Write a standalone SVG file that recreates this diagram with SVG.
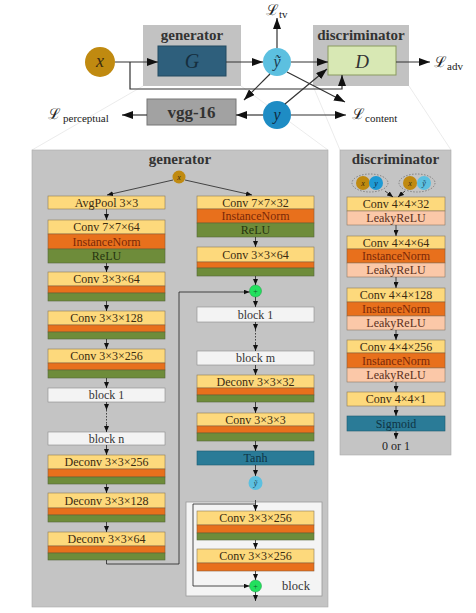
<svg xmlns="http://www.w3.org/2000/svg" width="476" height="613" viewBox="0 0 476 613">
<style>
text{font-family:"Liberation Serif","DejaVu Serif",serif;}
.lb{font-size:12px;text-anchor:middle;}
.hd{font-size:15px;font-weight:bold;text-anchor:middle;fill:#333;}
.Y{fill:#fdd97c;stroke:#8c7a55;stroke-width:0.6;}
.O{fill:#e8701c;stroke:#8c5a35;stroke-width:0.6;}
.G{fill:#6e8c3a;stroke:#55663a;stroke-width:0.6;}
.P{fill:#fbc8a8;stroke:#8c7a65;stroke-width:0.6;}
.W{fill:#f3f3f3;stroke:#8a8a8a;stroke-width:0.6;}
.T{fill:#2a7b97;stroke:#1d5a70;stroke-width:0.6;}
.ty{fill:#3a2a10;}
.to{fill:#7a2808;}
.tg{fill:#26340f;}
.tp{fill:#5a3020;}
.tt{fill:#0e3444;}
.tw{fill:#333;}
.ln{stroke:#333;stroke-width:1.2;fill:none;}
.sl{stroke:#222;stroke-width:0.8;fill:none;}
.zl{stroke:#e6e6e6;stroke-width:0.8;fill:none;}
.pl{fill:#22e05e;stroke:#1a9a40;stroke-width:0.5;}
.Lc{font-family:"DejaVu Serif",serif;font-size:15px;}
.sub{font-size:11px;}
</style>
<defs>
<marker id="ah" markerUnits="userSpaceOnUse" markerWidth="11" markerHeight="8" refX="11" refY="4" orient="auto"><path d="M0,0 L11,4 L0,8 z" fill="#111"/></marker>
<marker id="as" markerUnits="userSpaceOnUse" markerWidth="6" markerHeight="5" refX="6" refY="2.5" orient="auto"><path d="M0,0 L6,2.5 L0,5 z" fill="#111"/></marker>
</defs>
<rect width="476" height="613" fill="#fff"/>

<!-- zoom lines -->
<g id="zoomlines">
<line class="zl" x1="143" y1="86" x2="32" y2="150"/>
<line class="zl" x1="241" y1="86" x2="328" y2="150"/>
<line class="zl" x1="313" y1="86" x2="340" y2="150"/>
<line class="zl" x1="409" y1="86" x2="451" y2="150"/>
</g>

<!-- top overview -->
<g id="top-generator">
<rect x="143" y="25" width="98" height="61" fill="#c2c2c2"/>
<text class="hd" x="192" y="40">generator</text>
<rect x="158" y="46" width="68" height="30" fill="#2e5f7c" stroke="#234a60"/>
<text x="192" y="68" font-size="20" font-style="italic" text-anchor="middle" fill="#152e3e">G</text>
</g>
<g id="top-discriminator">
<rect x="313" y="25" width="96" height="61" fill="#c2c2c2"/>
<text class="hd" x="361" y="40">discriminator</text>
<rect x="328" y="46" width="68" height="29" fill="#d8e8b4" stroke="#8a9a60"/>
<text x="362" y="68" font-size="19" font-style="italic" text-anchor="middle" fill="#333">D</text>
</g>
<g id="top-x">
<circle cx="100" cy="62" r="15" fill="#c08a10"/>
<text x="100" y="67" font-size="18" font-style="italic" text-anchor="middle" fill="#3a2a10">x</text>
</g>
<g id="top-yhat">
<circle cx="277" cy="62" r="14" fill="#5cc0e0"/>
<text x="277" y="67" font-size="16" font-style="italic" text-anchor="middle" fill="#1a3a50">ỹ</text>
</g>
<g id="top-y">
<circle cx="277" cy="115" r="14" fill="#1e8cc4"/>
<text x="277" y="120" font-size="16" font-style="italic" text-anchor="middle" fill="#0e2a40">y</text>
</g>
<g id="top-vgg">
<rect x="147" y="99" width="89" height="26" fill="#a2a2a2" stroke="#777"/>
<text x="191.5" y="118" font-size="17" font-weight="bold" text-anchor="middle" fill="#333">vgg-16</text>
</g>
<g id="losses" fill="#222">
<text x="266" y="15"><tspan class="Lc">ℒ</tspan><tspan class="sub" dy="3">tv</tspan></text>
<text x="434" y="67"><tspan class="Lc">ℒ</tspan><tspan class="sub" dy="3">adv</tspan></text>
<text x="352" y="119"><tspan class="Lc">ℒ</tspan><tspan class="sub" dy="3">content</tspan></text>
<text x="48" y="119"><tspan class="Lc">ℒ</tspan><tspan class="sub" dy="3" dx="2">perceptual</tspan></text>
</g>
<g id="top-connectors">
<line class="ln" x1="115" y1="62" x2="158" y2="62" marker-end="url(#ah)"/>
<polyline class="ln" points="130,62 130,89 342,89 342,75" marker-end="url(#ah)"/>
<line class="ln" x1="226" y1="62" x2="263" y2="62" marker-end="url(#ah)"/>
<line class="ln" x1="291" y1="62" x2="328" y2="62" marker-end="url(#ah)"/>
<line class="ln" x1="277" y1="48" x2="277" y2="18" marker-end="url(#ah)"/>
<line class="ln" x1="396" y1="62" x2="430" y2="62" marker-end="url(#ah)"/>
<line class="ln" x1="270" y1="74" x2="244" y2="100" marker-end="url(#ah)"/>
<line class="ln" x1="287" y1="72" x2="345" y2="102" marker-end="url(#ah)"/>
<line class="ln" x1="285" y1="104" x2="327" y2="69" marker-end="url(#ah)"/>
<line class="ln" x1="263" y1="115" x2="236" y2="115" marker-end="url(#ah)"/>
<line class="ln" x1="291" y1="115" x2="346" y2="115" marker-end="url(#ah)"/>
<line class="ln" x1="147" y1="115" x2="122" y2="115" marker-end="url(#ah)"/>
</g>

<!-- generator panel -->
<g id="generator-panel">
<rect x="32" y="150" width="296" height="457" fill="#c4c4c4" stroke="#aaa" stroke-width="0.6"/>
<text class="hd" x="180" y="164">generator</text>
</g>
<g id="g-x">
<circle cx="179" cy="177" r="6.5" fill="#c08a10"/>
<text x="179" y="180" font-size="8" font-style="italic" text-anchor="middle" fill="#3a2a10">x</text>
</g>

<g id="g-avgpool">
<rect class="Y" x="48" y="196" width="117" height="13"/>
<text class="lb ty" x="106.5" y="206.5">AvgPool 3×3</text>
</g>
<g id="g-conv7x7x64">
<rect class="Y" x="48" y="220" width="117" height="14"/>
<rect class="O" x="48" y="234" width="117" height="15"/>
<rect class="G" x="48" y="249" width="117" height="14"/>
<text class="lb ty" x="106.5" y="231">Conv 7×7×64</text>
<text class="lb to" x="106.5" y="245.5">InstanceNorm</text>
<text class="lb tg" x="106.5" y="260">ReLU</text>
</g>
<g id="g-conv3x3x64">
<rect class="Y" x="48" y="272" width="117" height="14"/>
<rect class="O" x="48" y="286" width="117" height="7"/>
<rect class="G" x="48" y="293" width="117" height="8"/>
<text class="lb ty" x="106.5" y="283">Conv 3×3×64</text>
</g>
<g id="g-conv3x3x128">
<rect class="Y" x="48" y="311" width="117" height="14"/>
<rect class="O" x="48" y="325" width="117" height="7"/>
<rect class="G" x="48" y="332" width="117" height="7"/>
<text class="lb ty" x="106.5" y="322">Conv 3×3×128</text>
</g>
<g id="g-conv3x3x256">
<rect class="Y" x="48" y="349" width="117" height="14"/>
<rect class="O" x="48" y="363" width="117" height="7"/>
<rect class="G" x="48" y="370" width="117" height="8"/>
<text class="lb ty" x="106.5" y="360">Conv 3×3×256</text>
</g>
<g id="g-block1-left">
<rect class="W" x="48" y="388" width="117" height="14"/>
<text class="lb tw" x="106.5" y="399">block 1</text>
</g>
<g id="g-blockn">
<rect class="W" x="48" y="432" width="117" height="13"/>
<text class="lb tw" x="106.5" y="442.5">block n</text>
</g>
<g id="g-deconv256">
<rect class="Y" x="48" y="455" width="117" height="14"/>
<rect class="O" x="48" y="469" width="117" height="8"/>
<rect class="G" x="48" y="477" width="117" height="7"/>
<text class="lb ty" x="106.5" y="466">Deconv 3×3×256</text>
</g>
<g id="g-deconv128">
<rect class="Y" x="48" y="493" width="117" height="15"/>
<rect class="O" x="48" y="508" width="117" height="7"/>
<rect class="G" x="48" y="515" width="117" height="7"/>
<text class="lb ty" x="106.5" y="504.5">Deconv 3×3×128</text>
</g>
<g id="g-deconv64">
<rect class="Y" x="48" y="532" width="117" height="14"/>
<rect class="O" x="48" y="546" width="117" height="7"/>
<rect class="G" x="48" y="553" width="117" height="7"/>
<text class="lb ty" x="106.5" y="543">Deconv 3×3×64</text>
</g>

<g id="g-conv7x7x32">
<rect class="Y" x="197" y="196" width="117" height="13"/>
<rect class="O" x="197" y="209" width="117" height="14"/>
<rect class="G" x="197" y="223" width="117" height="14"/>
<text class="lb ty" x="255.5" y="206.5">Conv 7×7×32</text>
<text class="lb to" x="255.5" y="220">InstanceNorm</text>
<text class="lb tg" x="255.5" y="234">ReLU</text>
</g>
<g id="g-conv3x3x64-right">
<rect class="Y" x="197" y="247" width="117" height="15"/>
<rect class="O" x="197" y="262" width="117" height="6"/>
<rect class="G" x="197" y="268" width="117" height="8"/>
<text class="lb ty" x="255.5" y="258.5">Conv 3×3×64</text>
</g>
<g id="g-plus1">
<circle class="pl" cx="255.5" cy="291" r="6"/>
<text x="255.5" y="294" font-size="8" text-anchor="middle" fill="#155a2a">+</text>
</g>
<g id="g-block1-right">
<rect class="W" x="197" y="307" width="117" height="15"/>
<text class="lb tw" x="255.5" y="318.5">block 1</text>
</g>
<g id="g-blockm">
<rect class="W" x="197" y="351" width="117" height="14"/>
<text class="lb tw" x="255.5" y="362">block m</text>
</g>
<g id="g-deconv32">
<rect class="Y" x="197" y="375" width="117" height="13"/>
<rect class="O" x="197" y="388" width="117" height="7"/>
<rect class="G" x="197" y="395" width="117" height="7"/>
<text class="lb ty" x="255.5" y="385.5">Deconv 3×3×32</text>
</g>
<g id="g-conv3x3x3">
<rect class="Y" x="197" y="413" width="117" height="13"/>
<rect class="O" x="197" y="426" width="117" height="7"/>
<rect class="G" x="197" y="433" width="117" height="8"/>
<text class="lb ty" x="255.5" y="423.5">Conv 3×3×3</text>
</g>
<g id="g-tanh">
<rect class="T" x="197" y="451" width="117" height="14"/>
<text class="lb tt" x="255.5" y="462">Tanh</text>
</g>
<g id="g-yhat">
<circle cx="255.5" cy="483" r="7" fill="#5cc0e0"/>
<text x="255.5" y="486" font-size="8" font-style="italic" text-anchor="middle" fill="#1a3a50">ỹ</text>
</g>
<g id="g-block">
<rect x="186" y="502" width="136" height="94" fill="#f4f4f4" stroke="#999" stroke-width="0.8"/>
<rect class="Y" x="197" y="511" width="117" height="14"/>
<rect class="O" x="197" y="525" width="117" height="8"/>
<rect class="G" x="197" y="533" width="117" height="7"/>
<text class="lb ty" x="255.5" y="522">Conv 3×3×256</text>
<rect class="Y" x="197" y="549" width="117" height="14"/>
<rect class="O" x="197" y="563" width="117" height="8"/>
<text class="lb ty" x="255.5" y="560">Conv 3×3×256</text>
<circle class="pl" cx="255.5" cy="586" r="6"/>
<text x="255.5" y="589" font-size="8" text-anchor="middle" fill="#155a2a">+</text>
<text x="296" y="590" font-size="12.5" text-anchor="middle" fill="#333">block</text>
</g>

<g id="generator-connectors">
<line class="sl" x1="173" y1="180" x2="107" y2="195" marker-end="url(#as)"/>
<line class="sl" x1="185" y1="180" x2="252" y2="195" marker-end="url(#as)"/>
<line class="sl" x1="106.5" y1="209" x2="106.5" y2="220" marker-end="url(#as)"/>
<line class="sl" x1="106.5" y1="263" x2="106.5" y2="272" marker-end="url(#as)"/>
<line class="sl" x1="106.5" y1="301" x2="106.5" y2="311" marker-end="url(#as)"/>
<line class="sl" x1="106.5" y1="339" x2="106.5" y2="349" marker-end="url(#as)"/>
<line class="sl" x1="106.5" y1="378" x2="106.5" y2="388" marker-end="url(#as)"/>
<line class="sl" x1="106.5" y1="402" x2="106.5" y2="410" marker-end="url(#as)"/>
<line class="sl" x1="106.5" y1="410" x2="106.5" y2="424" stroke-dasharray="1.5,1.5"/>
<line class="sl" x1="106.5" y1="424" x2="106.5" y2="432" marker-end="url(#as)"/>
<line class="sl" x1="106.5" y1="445" x2="106.5" y2="455" marker-end="url(#as)"/>
<line class="sl" x1="106.5" y1="484" x2="106.5" y2="493" marker-end="url(#as)"/>
<line class="sl" x1="106.5" y1="522" x2="106.5" y2="532" marker-end="url(#as)"/>
<polyline class="sl" points="106.5,560 106.5,564 179,564 179,292 249.5,292" marker-end="url(#as)"/>
<line class="sl" x1="255.5" y1="237" x2="255.5" y2="247" marker-end="url(#as)"/>
<line class="sl" x1="255.5" y1="276" x2="255.5" y2="285" marker-end="url(#as)"/>
<line class="sl" x1="255.5" y1="297" x2="255.5" y2="307" marker-end="url(#as)"/>
<line class="sl" x1="255.5" y1="322" x2="255.5" y2="330" marker-end="url(#as)"/>
<line class="sl" x1="255.5" y1="330" x2="255.5" y2="343" stroke-dasharray="1.5,1.5"/>
<line class="sl" x1="255.5" y1="343" x2="255.5" y2="351" marker-end="url(#as)"/>
<line class="sl" x1="255.5" y1="365" x2="255.5" y2="375" marker-end="url(#as)"/>
<line class="sl" x1="255.5" y1="402" x2="255.5" y2="413" marker-end="url(#as)"/>
<line class="sl" x1="255.5" y1="441" x2="255.5" y2="451" marker-end="url(#as)"/>
<line class="sl" x1="255.5" y1="465" x2="255.5" y2="476" marker-end="url(#as)"/>
<line class="sl" x1="255.5" y1="500" x2="255.5" y2="511" marker-end="url(#as)"/>
<polyline class="sl" points="255.5,504 193,504 193,586 249.5,586" marker-end="url(#as)"/>
<line class="sl" x1="255.5" y1="540" x2="255.5" y2="549" marker-end="url(#as)"/>
<line class="sl" x1="255.5" y1="571" x2="255.5" y2="580" marker-end="url(#as)"/>
<line class="sl" x1="255.5" y1="592" x2="255.5" y2="601" marker-end="url(#as)"/>
</g>

<!-- discriminator panel -->
<g id="discriminator-panel">
<rect x="340" y="150" width="111" height="305" fill="#c4c4c4" stroke="#aaa" stroke-width="0.6"/>
<text class="hd" x="395.5" y="164">discriminator</text>
</g>
<g id="d-pair1">
<ellipse cx="370" cy="183" rx="18" ry="9" fill="none" stroke="#555" stroke-width="0.6" stroke-dasharray="1.5,1.5"/>
<circle cx="363" cy="183" r="7" fill="#c08a10"/>
<circle cx="376" cy="183" r="7" fill="#1e9ad4"/>
<text x="363" y="186" font-size="8" font-style="italic" text-anchor="middle" fill="#3a2a10">x</text>
<text x="376" y="186" font-size="8" font-style="italic" text-anchor="middle" fill="#0e2a40">y</text>
</g>
<g id="d-pair2">
<ellipse cx="417" cy="183" rx="18" ry="9" fill="none" stroke="#555" stroke-width="0.6" stroke-dasharray="1.5,1.5"/>
<circle cx="410" cy="183" r="7" fill="#c08a10"/>
<circle cx="424" cy="183" r="7" fill="#5cc0e0"/>
<text x="410" y="186" font-size="8" font-style="italic" text-anchor="middle" fill="#3a2a10">x</text>
<text x="424" y="186" font-size="8" font-style="italic" text-anchor="middle" fill="#1a3a50">ỹ</text>
</g>
<g id="d-conv32">
<rect class="Y" x="347" y="197" width="98" height="14"/>
<rect class="P" x="347" y="211" width="98" height="14"/>
<text class="lb ty" x="396" y="208">Conv 4×4×32</text>
<text class="lb tp" x="396" y="222">LeakyReLU</text>
</g>
<g id="d-conv64">
<rect class="Y" x="347" y="236" width="98" height="13"/>
<rect class="O" x="347" y="249" width="98" height="14"/>
<rect class="P" x="347" y="263" width="98" height="14"/>
<text class="lb ty" x="396" y="246.5">Conv 4×4×64</text>
<text class="lb to" x="396" y="260">InstanceNorm</text>
<text class="lb tp" x="396" y="274">LeakyReLU</text>
</g>
<g id="d-conv128">
<rect class="Y" x="347" y="288" width="98" height="14"/>
<rect class="O" x="347" y="302" width="98" height="14"/>
<rect class="P" x="347" y="316" width="98" height="14"/>
<text class="lb ty" x="396" y="299">Conv 4×4×128</text>
<text class="lb to" x="396" y="313">InstanceNorm</text>
<text class="lb tp" x="396" y="327">LeakyReLU</text>
</g>
<g id="d-conv256">
<rect class="Y" x="347" y="340" width="98" height="13"/>
<rect class="O" x="347" y="353" width="98" height="15"/>
<rect class="P" x="347" y="368" width="98" height="14"/>
<text class="lb ty" x="396" y="350.5">Conv 4×4×256</text>
<text class="lb to" x="396" y="364.5">InstanceNorm</text>
<text class="lb tp" x="396" y="379">LeakyReLU</text>
</g>
<g id="d-conv1">
<rect class="Y" x="347" y="392" width="98" height="14"/>
<text class="lb ty" x="396" y="403">Conv 4×4×1</text>
</g>
<g id="d-sigmoid">
<rect class="T" x="347" y="416" width="98" height="15"/>
<text class="lb tt" x="396" y="427.5">Sigmoid</text>
</g>
<g id="d-output">
<text class="lb" x="396" y="450" fill="#222">0 or 1</text>
</g>
<g id="discriminator-connectors">
<line class="sl" x1="385" y1="191" x2="393" y2="197" marker-end="url(#as)"/>
<line class="sl" x1="405" y1="191" x2="398" y2="197" marker-end="url(#as)"/>
<line class="sl" x1="396" y1="225" x2="396" y2="236" marker-end="url(#as)"/>
<line class="sl" x1="396" y1="277" x2="396" y2="288" marker-end="url(#as)"/>
<line class="sl" x1="396" y1="330" x2="396" y2="340" marker-end="url(#as)"/>
<line class="sl" x1="396" y1="382" x2="396" y2="392" marker-end="url(#as)"/>
<line class="sl" x1="396" y1="406" x2="396" y2="416" marker-end="url(#as)"/>
<line class="sl" x1="396" y1="431" x2="396" y2="439" marker-end="url(#as)"/>
</g>
</svg>
